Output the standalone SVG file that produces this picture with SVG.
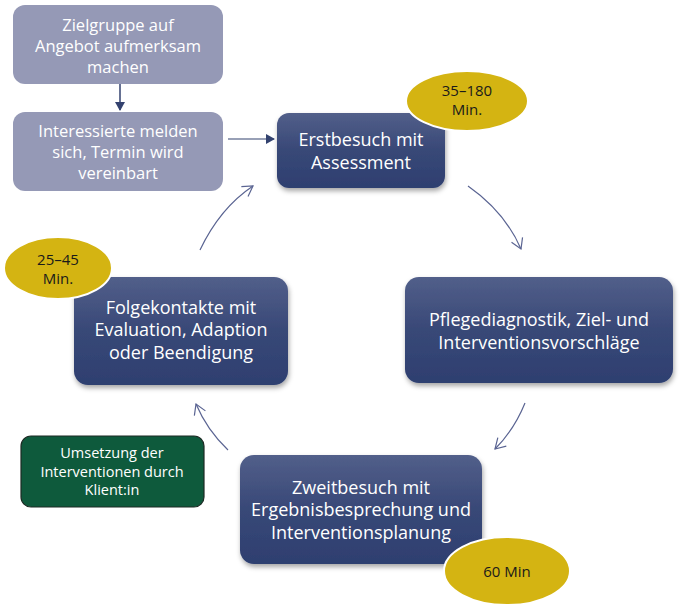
<svg xmlns="http://www.w3.org/2000/svg" width="685" height="611" viewBox="0 0 685 611">
<style>
.lt{fill:#9599b6}
.dk{fill:url(#g)}
.t{font-family:"Open Sans","Noto Sans",sans-serif;fill:#fff;text-anchor:middle}
.tb{font-family:"Open Sans","Noto Sans",sans-serif;fill:#1a1a1a;text-anchor:middle;font-size:15px}
.el{fill:#d4b412;stroke:#fff;stroke-width:2}
.c{fill:none;stroke:#5a6492;stroke-width:1.2}
</style>
<defs>
<linearGradient id="g" x1="0" y1="0" x2="0" y2="1"><stop offset="0" stop-color="#525f8a"/><stop offset="0.5" stop-color="#384877"/><stop offset="1" stop-color="#2e3f70"/></linearGradient>
<filter id="sh" x="-10%" y="-10%" width="125%" height="130%"><feDropShadow dx="1" dy="3" stdDeviation="2.5" flood-color="#000" flood-opacity="0.35"/></filter>
<marker id="a" markerWidth="10" markerHeight="10" refX="8" refY="5" orient="auto" markerUnits="userSpaceOnUse"><path d="M0,0 L9,5 L0,10 z" fill="#33426f"/></marker>
<marker id="o" markerWidth="14" markerHeight="14" refX="11" refY="7" orient="auto" markerUnits="userSpaceOnUse"><path d="M1,1 L11,7 L1,13" fill="none" stroke="#5a6492" stroke-width="1.2"/></marker>
</defs>
<g id="connectors">
<path d="M120,84 V110" stroke="#33426f" stroke-width="1.5" fill="none" marker-end="url(#a)"/>
<path d="M228,139 H274" stroke="#33426f" stroke-width="1.2" fill="none" marker-end="url(#a)"/>
<path class="c" d="M468,186 Q505,212 521,249" marker-end="url(#o)"/>
<path class="c" d="M525,403 Q514,430 495,449" marker-end="url(#o)"/>
<path class="c" d="M228,450 Q207,430 196,404" marker-end="url(#o)"/>
<path class="c" d="M200,250 Q220,208 253,186" marker-end="url(#o)"/>
</g>
<g id="n1"><rect class="lt" x="13" y="5" width="210" height="79" rx="12"/>
<text class="t" font-size="16.5"><tspan x="118" y="31">Zielgruppe auf</tspan><tspan x="118" y="52">Angebot aufmerksam</tspan><tspan x="118" y="73">machen</tspan></text></g>
<g id="n2"><rect class="lt" x="13" y="112" width="210" height="79" rx="12"/>
<text class="t" font-size="16.5"><tspan x="118" y="137">Interessierte melden</tspan><tspan x="118" y="158">sich, Termin wird</tspan><tspan x="118" y="179">vereinbart</tspan></text></g>
<g id="n3"><rect class="dk" filter="url(#sh)" x="277" y="113" width="168" height="75" rx="12"/>
<text class="t" font-size="18"><tspan x="361" y="146">Erstbesuch mit</tspan><tspan x="361" y="169">Assessment</tspan></text></g>
<g id="e1"><ellipse class="el" cx="467" cy="101" rx="61" ry="30"/>
<text class="tb"><tspan x="467" y="96">35–180</tspan><tspan x="467" y="115">Min.</tspan></text></g>
<g id="n4"><rect class="dk" filter="url(#sh)" x="405" y="277" width="268" height="106" rx="14"/>
<text class="t" font-size="18"><tspan x="539" y="326">Pflegediagnostik, Ziel- und</tspan><tspan x="539" y="349">Interventionsvorschläge</tspan></text></g>
<g id="n5"><rect class="dk" filter="url(#sh)" x="240" y="455" width="242" height="109" rx="14"/>
<text class="t" font-size="18"><tspan x="361" y="494">Zweitbesuch mit</tspan><tspan x="361" y="516">Ergebnisbesprechung und</tspan><tspan x="361" y="539">Interventionsplanung</tspan></text></g>
<g id="e3"><ellipse class="el" cx="507" cy="571" rx="63" ry="34"/>
<text class="tb" font-size="15.5"><tspan x="507" y="577">60 Min</tspan></text></g>
<g id="n6"><rect class="dk" filter="url(#sh)" x="74" y="277" width="214" height="108" rx="14"/>
<text class="t" font-size="18"><tspan x="181" y="314">Folgekontakte mit</tspan><tspan x="181" y="336">Evaluation, Adaption</tspan><tspan x="181" y="359">oder Beendigung</tspan></text></g>
<g id="e2"><ellipse class="el" cx="58" cy="268" rx="54" ry="31"/>
<text class="tb"><tspan x="58" y="265">25–45</tspan><tspan x="58" y="284">Min.</tspan></text></g>
<g id="n7"><rect x="21" y="436" width="183" height="71" rx="10" fill="#0e5a3c" stroke="#1d2a24" stroke-width="1.2"/>
<text class="t" font-size="14.5"><tspan x="112" y="458">Umsetzung der</tspan><tspan x="112" y="476.5">Interventionen durch</tspan><tspan x="112" y="495">Klient:in</tspan></text></g>
</svg>
